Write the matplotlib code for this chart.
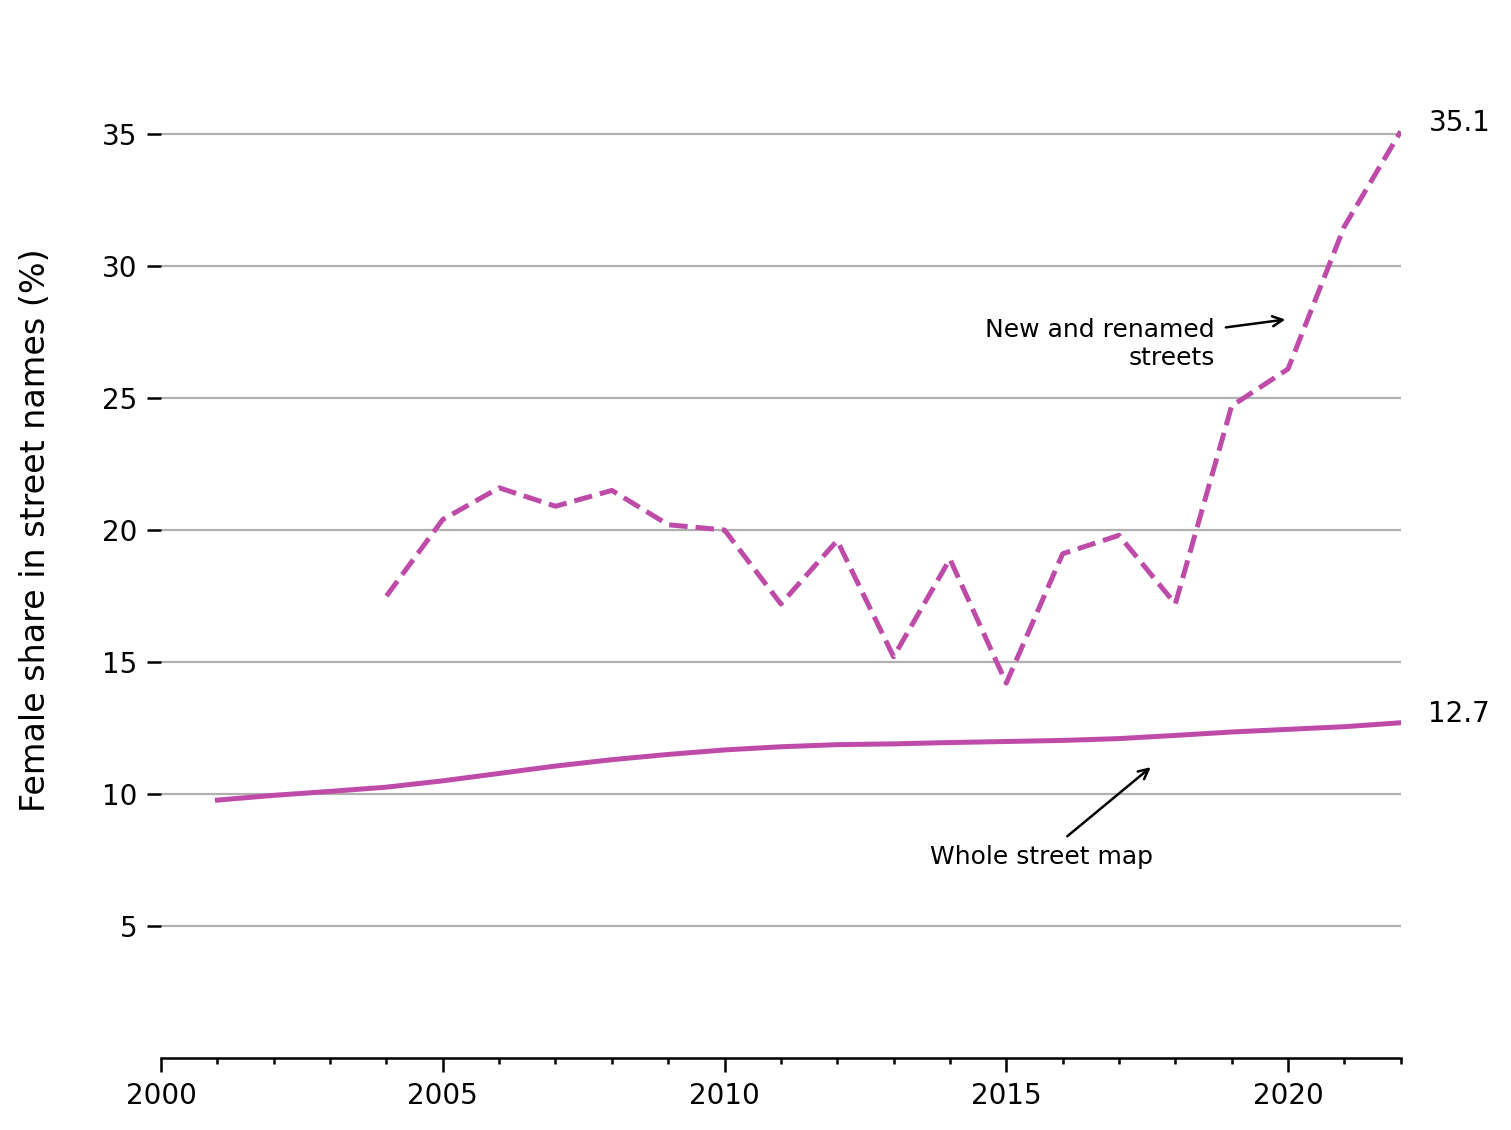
import matplotlib
matplotlib.use("Agg")
import matplotlib.pyplot as plt
from matplotlib.ticker import MultipleLocator

# data
years_new = list(range(2004, 2023))
share_new = [17.5, 20.4, 21.6, 20.9, 21.5, 20.2, 20.0, 17.2, 19.6, 15.2,
             18.9, 14.2, 19.1, 19.8, 17.2, 24.7, 26.1, 31.5, 35.1]

years_all = list(range(2001, 2023))
share_all = [9.77, 9.95, 10.1, 10.26, 10.5, 10.78, 11.06, 11.3, 11.5, 11.67,
             11.79, 11.87, 11.9, 11.95, 11.99, 12.03, 12.1, 12.22, 12.35, 12.45,
             12.55, 12.7]

yticks = [5, 10, 15, 20, 25, 30, 35]
color = "#bf4ba9"

fig = plt.figure(figsize=(1511 / 200, 1130 / 200), dpi=200)
ax = fig.add_axes([0.1066, 0.0637, 0.8204, 0.9345])

ax.plot(years_new, share_new, color=color, lw=1.8, ls="--")
ax.plot(years_all, share_all, color=color, lw=1.8)

ax.set_xlim(2000, 2022)
ax.set_ylim(0, 40)
ax.set_yticks(yticks)
ax.xaxis.set_major_locator(MultipleLocator(5))
ax.xaxis.set_minor_locator(MultipleLocator(1))
ax.tick_params(axis="both", labelsize=10)
ax.tick_params(axis="both", which="major", length=5, width=0.9)
ax.tick_params(axis="x", which="minor", length=2.2, width=0.9)
ax.grid(axis="y", color="#b0b0b0", lw=0.8)
ax.set_axisbelow(True)

for s in ["top", "right", "left"]:
    ax.spines[s].set_visible(False)
ax.spines["bottom"].set_linewidth(0.9)

ax.set_ylabel("Female share in street names (%)", fontsize=12, labelpad=18)

# end labels
for y in [share_new[-1], share_all[-1]]:
    ax.annotate(f"{y:.1f}", xy=(2022, y), xytext=(10, 3), textcoords="offset points",
                fontsize=10, va="center", ha="left", annotation_clip=False)

ax.annotate("New and renamed\nstreets", xy=(2020.05, 28), xytext=(2018.7, 27.05),
            fontsize=9, ha="right", va="center", multialignment="right",
            arrowprops=dict(arrowstyle="->", color="black", lw=0.9))
ax.annotate("Whole street map", xy=(2017.64, 11.15), xytext=(2015.63, 7.6),
            fontsize=9, ha="center", va="center",
            arrowprops=dict(arrowstyle="->", color="black", lw=0.9))

fig.savefig("out.png", dpi=200)
